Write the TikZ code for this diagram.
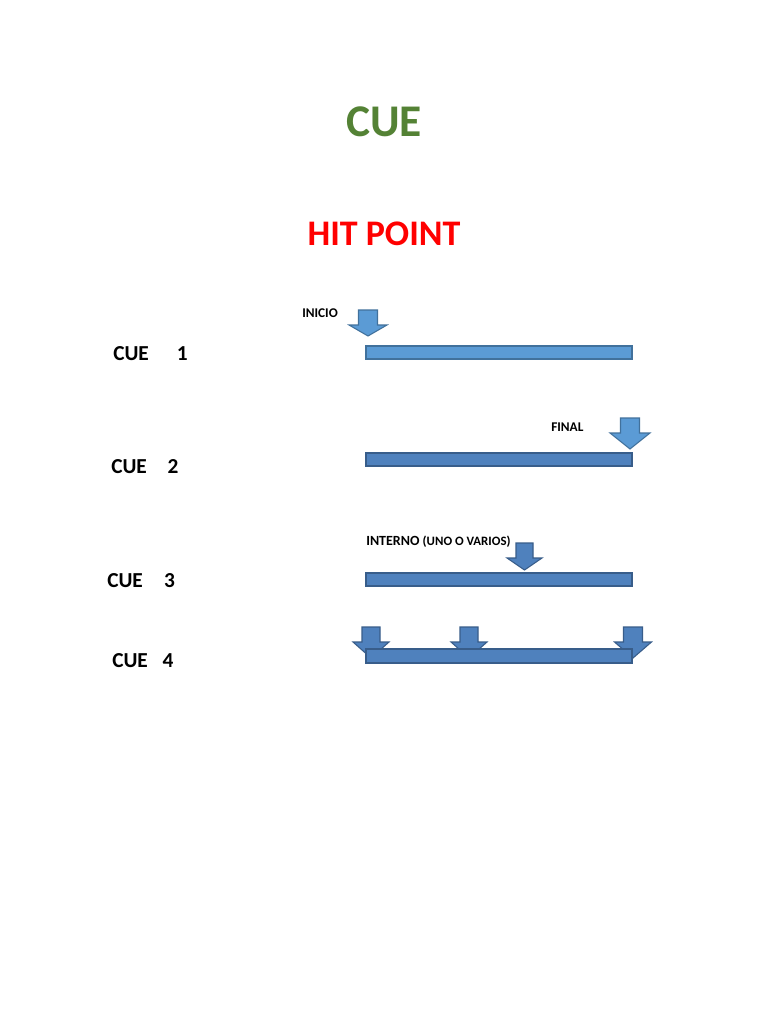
\documentclass[tikz,border=0pt]{standalone}
\usepackage{fontspec}
\setmainfont{Carlito}
\definecolor{titlegreen}{HTML}{548235}
\definecolor{barlight}{HTML}{5B9BD5}
\definecolor{barlightedge}{HTML}{41719C}
\definecolor{bardark}{HTML}{4F81BD}
\definecolor{bardarkedge}{HTML}{385D8A}
\newcommand{\dnarrow}[7]{%
  % #1 style, #2 center x, #3 top, #4 head half width, #5 shaft half width, #6 head start y, #7 tip y
  \draw[#1] (#2-#5,#3) -- (#2+#5,#3) -- (#2+#5,#6) -- (#2+#4,#6) -- (#2,#7)
    -- (#2-#4,#6) -- (#2-#5,#6) -- cycle;}
\begin{document}
\begin{tikzpicture}[x=0.75pt,y=-0.75pt,
  lightshape/.style={fill=barlight,draw=barlightedge,line width=0.8pt,line join=miter},
  darkshape/.style={fill=bardark,draw=bardarkedge,line width=0.8pt,line join=miter},
  cuelabel/.style={anchor=base west,inner sep=0pt,font=\fontsize{16}{19}\selectfont\bfseries},
  smalllabel/.style={anchor=base west,inner sep=0pt,font=\fontsize{10}{12}\selectfont\bfseries}]
\useasboundingbox[fill=white] (0,0) rectangle (768,1024);

\node[anchor=base,inner sep=0pt,text=titlegreen,font=\fontsize{34}{40}\selectfont\bfseries] (title) at (384,137) {CUE};
\node[anchor=base,inner sep=0pt,text=red,font=\fontsize{27}{32}\selectfont\bfseries] (hit) at (384,245) {HIT POINT};

% row 1
\node[cuelabel] (cue1) at (113,360) {CUE\hspace{21pt}1};
\node[smalllabel] (inicio) at (302,317) {INICIO};
\dnarrow{lightshape}{368}{310}{19}{9.5}{325}{336}
\draw[lightshape] (366,346) rectangle (632,359);

% row 2
\node[cuelabel] (cue2) at (111,473) {CUE\hspace{15.5pt}2};
\node[smalllabel] (final) at (551,431) {FINAL};
\dnarrow{lightshape}{630}{418}{20}{9.5}{433}{449}
\draw[darkshape] (366,453) rectangle (632,466);

% row 3
\node[cuelabel] (cue3) at (107,587) {CUE\hspace{16pt}3};
\node[anchor=base west,inner sep=0pt,font=\fontsize{10.5}{12}\selectfont\bfseries] (interno) at (366,545) {INTERNO {\fontsize{9.6}{11}\selectfont(UNO O VARIOS)}};
\dnarrow{darkshape}{524.5}{543}{17.5}{8.5}{558}{570}
\draw[darkshape] (366,573) rectangle (632,586);

% row 4
\node[cuelabel] (cue4) at (112,667) {CUE\hspace{11pt}4};
\dnarrow{darkshape}{371}{627}{18}{9}{642}{658}
\dnarrow{darkshape}{469}{627}{18}{9}{642}{658}
\dnarrow{darkshape}{633}{627}{18.5}{9.5}{642}{658}
\draw[darkshape] (366,649) rectangle (632,663);
\end{tikzpicture}
\end{document}
